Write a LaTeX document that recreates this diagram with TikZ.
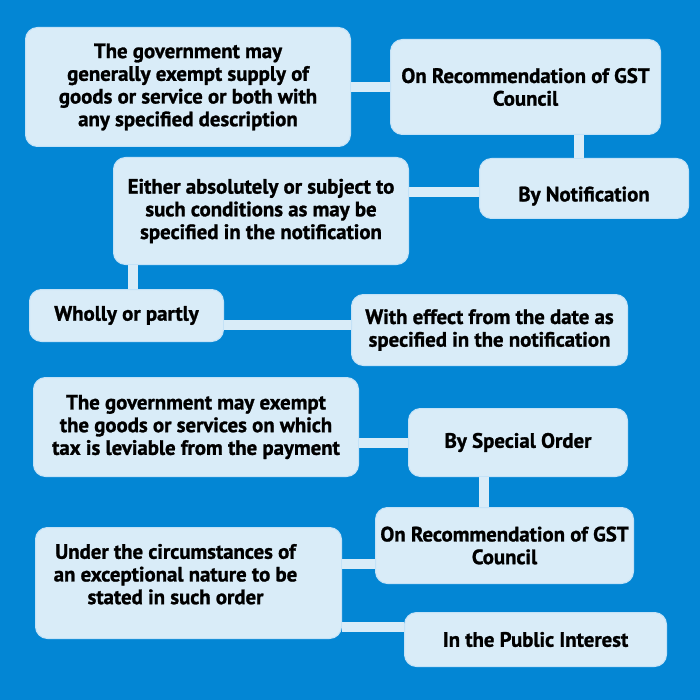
\documentclass[tikz,border=0pt]{standalone}
\usepackage{fontspec}
\setmainfont{PT Sans}[BoldFeatures={FakeBold=1.2}]
\definecolor{bg}{HTML}{0386D4}
\definecolor{boxfill}{HTML}{D9ECF8}
\definecolor{boxline}{HTML}{C4E2F7}
\definecolor{link}{HTML}{D9ECF8}
\tikzset{
  box/.style={draw=boxline, line width=1pt, fill=boxfill, rounded corners=12pt,
    inner sep=0pt, anchor=north west, align=center,
    font=\bfseries\fontsize{20.8}{22.7}\selectfont, text=black},
  link/.style={draw=link, line width=10pt}
}
\begin{document}
\begin{tikzpicture}[x=1pt,y=-1pt]
\fill[bg] (0,0) rectangle (700,700);
\useasboundingbox (0,0) rectangle (700,700);
% upper group
\node[box, minimum width=325pt, minimum height=119pt] (A) at (25,27)
  {The government may\\generally exempt supply of\\goods or service or both with\\any specified description};
\node[box, minimum width=270pt, minimum height=95pt] (B) at (390,39)
  {On Recommendation of GST\\Council};
\node[box, minimum width=209pt, minimum height=60pt] (C) at (479,158)
  {\rule{0pt}{30pt}By Notification};
\node[box, minimum width=295pt, minimum height=107pt] (D) at (113,157)
  {Either absolutely or subject to\\such conditions as may be\\specified in the notification};
\node[box, minimum width=194pt, minimum height=52pt] (E) at (29,289)
  {Wholly or partly};
\node[box, minimum width=276pt, minimum height=71pt] (F) at (351,294)
  {With effect from the date as\\specified in the notification};
% lower group
\node[box, minimum width=325pt, minimum height=99pt] (G) at (33,377)
  {The government may exempt\\the goods or services on which\\tax is leviable from the payment};
\node[box, minimum width=219pt, minimum height=68pt] (H) at (408,408)
  {By Special Order};
\node[box, minimum width=258pt, minimum height=76pt] (I) at (375,507)
  {On Recommendation of GST\\Council};
\node[box, minimum width=306pt, minimum height=111pt] (J) at (35,527)
  {\begin{tabular}{@{}c@{}}Under the circumstances of\\an exceptional nature to be\\stated in such order\rule[-19pt]{0pt}{19pt}\end{tabular}\hspace*{26pt}};
\node[box, minimum width=262pt, minimum height=54pt] (K) at (404,612)
  {In the Public Interest};
% connectors
\draw[link] (A.east) -- (A.east -| B.west);
\draw[link] ([xshift=-5pt]C.north) -- ([xshift=-5pt]C.north |- B.south);
\draw[link] ([yshift=-4pt]C.west) -- ([yshift=-4pt]C.west -| D.east);
\draw[link] ([xshift=6pt]E.north) -- ([xshift=6pt]E.north |- D.south);
\draw[link] ([yshift=-9pt]E.east) -- ([yshift=-9pt]E.east -| F.west);
\draw[link] (H.west) -- (H.west -| G.east);
\draw[link] ([xshift=-21pt]I.north) -- ([xshift=-21pt]I.north |- H.south);
\draw[link] ([yshift=-18pt]I.west) -- ([yshift=-18pt]I.west -| J.east);
\draw[link] ([yshift=13pt]K.west) -- ([yshift=13pt]K.west -| J.east);
\end{tikzpicture}
\end{document}
